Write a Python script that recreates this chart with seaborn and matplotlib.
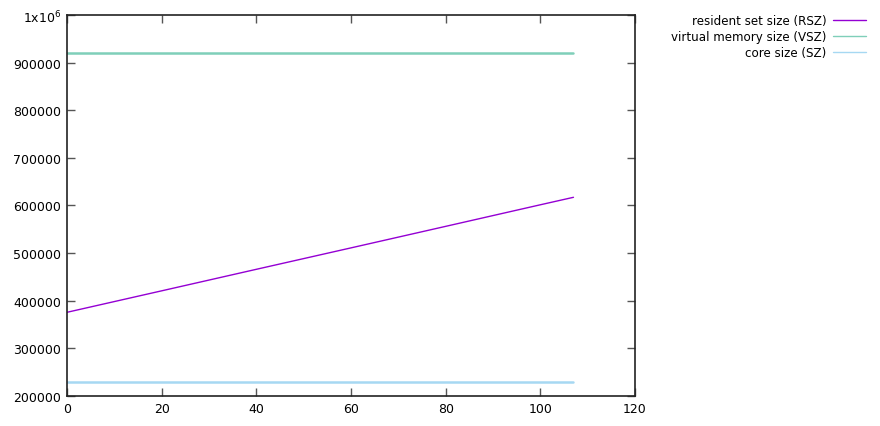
import matplotlib
matplotlib.use('Agg')
import matplotlib.pyplot as plt
import matplotlib.ticker as mticker
import seaborn as sns
import pandas as pd

# values
steps = [0, 20, 40, 60, 80, 100, 107]
rsz = [375700, 420800, 466000, 511000, 556200, 601500, 617200]
vsz = [921000, 921000, 921000, 921000, 921000, 921000, 921000]
sz = [230000, 230000, 230000, 230000, 230000, 230000, 230000]

labels = ['resident set size (RSZ)', 'virtual memory size (VSZ)', 'core size (SZ)']
colors = ['#9400d3', '#7fcfb9', '#a6d8f2']

df = pd.concat([
    pd.DataFrame({'step': steps, 'value': rsz, 'series': labels[0]}),
    pd.DataFrame({'step': steps, 'value': vsz, 'series': labels[1]}),
    pd.DataFrame({'step': steps, 'value': sz, 'series': labels[2]}),
])

sns.set_style('white')
plt.rcParams['font.family'] = ['DejaVu Sans']
plt.rcParams['font.size'] = 9
plt.rcParams['text.color'] = 'black'

fig = plt.figure(figsize=(8.8, 4.27), dpi=100)
ax = fig.add_axes([0.0761, 0.0703, 0.6455, 0.8922])

sns.lineplot(data=df, x='step', y='value', hue='series', hue_order=labels,
             palette=colors, ax=ax, linewidth=1.0, sort=False)
for line, w in zip(ax.get_lines(), [1.0, 1.8, 1.8]):
    line.set_linewidth(w)

ax.set_xlim(0, 120)
ax.set_ylim(200000, 1000000)
ax.set_xticks(range(0, 121, 20))
ax.set_yticks(range(200000, 1000001, 100000))

def yfmt(v, pos):
    if v >= 1000000:
        return r'1x10$^{6}$'
    return '%d' % v

ax.yaxis.set_major_formatter(mticker.FuncFormatter(yfmt))
ax.set_xlabel('')
ax.set_ylabel('')

for s in ax.spines.values():
    s.set_visible(True)
    s.set_color('#222222')
    s.set_linewidth(1.2)

ax.tick_params(direction='in', length=6, width=1, color='#555555',
               top=True, right=True, bottom=True, left=True, labelsize=9,
               labelcolor='black', pad=4)

handles, lbls = ax.get_legend_handles_labels()
ax.legend(handles, lbls, loc='upper right', bbox_to_anchor=(0.99, 0.975),
          bbox_transform=fig.transFigure, frameon=False, markerfirst=False,
          fontsize=8.6, handlelength=2.8, handletextpad=0.55, labelspacing=0.25,
          borderaxespad=0)
leg = ax.get_legend()
for t in leg.get_texts():
    t.set_ha('right')
    t.set_color('black')
leg._legend_box.align = 'right'

fig.savefig('out.png', dpi=100)
